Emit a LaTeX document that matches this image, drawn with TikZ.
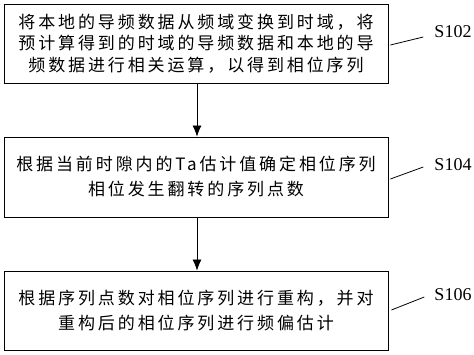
\documentclass[tikz,border=0pt]{standalone}
\usepackage{fontspec}
\setmainfont{Liberation Serif}
\newfontfamily\cjk[LetterSpace=17]{Noto Sans CJK SC}
\usepackage{tikz}
\usetikzlibrary{arrows.meta,positioning,calc}

\begin{document}
\begin{tikzpicture}[x=1pt, y=-1pt, >={Latex[length=11pt,width=9pt]},
    stepbox/.style={draw, line width=0.8pt, minimum width=384pt, inner sep=0pt,
                    align=center, font=\cjk\fontsize{17pt}{21.5pt}\selectfont},
    steplabel/.style={font=\fontsize{18pt}{20pt}\selectfont, inner sep=0pt},
    leader/.style={line width=0.8pt}]
  \useasboundingbox (0,0) rectangle (474,355);

  \node[stepbox, minimum height=79pt] (B1) at (196,43.5)
    {将本地的导频数据从频域变换到时域，将\\预计算得到的时域的导频数据和本地的导\\频数据进行相关运算，以得到相位序列};
  \node[stepbox, minimum height=80pt] (B2) at (196,177)
    {根据当前时隙内的Ta估计值确定相位序列\\[3.5pt]相位发生翻转的序列点数};
  \node[stepbox, minimum height=79pt] (B3) at (196,310.5)
    {根据序列点数对相位序列进行重构，并对\\[3.5pt]重构后的相位序列进行频偏估计};

  \node[steplabel] (L1) at (453,32) {S102};
  \node[steplabel] (L2) at (453,165) {S104};
  \node[steplabel] (L3) at (453,295) {S106};

  \draw[->, line width=0.8pt] (B1.south -| 197,0) -- (B2.north -| 197,0);
  \draw[->, line width=0.8pt] (B2.south -| 197,0) -- (B3.north -| 197,0);

  \draw[leader] ([xshift=2pt,yshift=-1.5pt]B1.east) -- ([xshift=-11pt,yshift=-5pt]L1.west);
  \draw[leader] ([xshift=2pt,yshift=-2pt]B2.east) -- ([xshift=-11pt,yshift=-2pt]L2.west);
  \draw[leader] ([xshift=3pt,yshift=0.5pt]B3.east) -- ([xshift=-10pt,yshift=-2pt]L3.west);
\end{tikzpicture}
\end{document}
